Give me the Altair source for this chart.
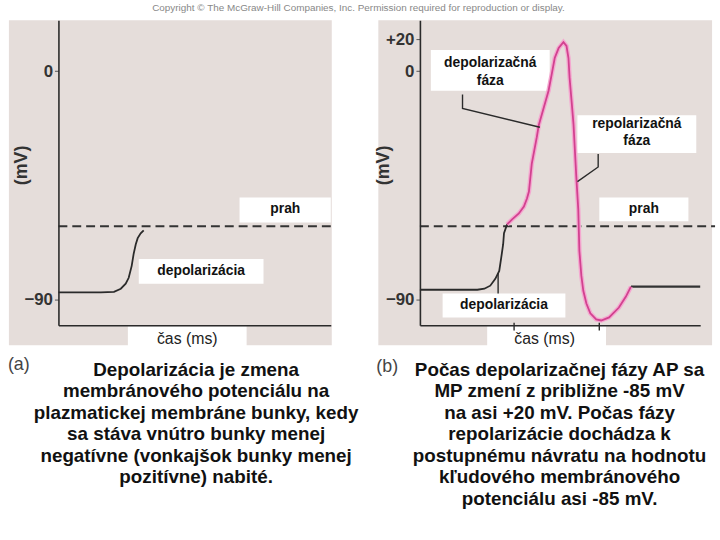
import altair as alt
import pandas as pd

# ---------------- data ----------------
# panel (a): subthreshold depolarisation
a_time = [0.0, 1.56, 2.04, 2.29, 2.47, 2.58, 2.69, 2.76, 2.84, 2.91, 3.02, 3.13]
a_mv = [-87.0, -87.0, -86.8, -85.6, -83.6, -81.3, -76.6, -72.0, -68.1, -65.7, -63.8, -62.6]

# panel (b): action potential
b_rest_time = [0.0, 2.05, 2.30, 2.51, 2.69, 2.83, 2.90, 2.97, 3.00, 3.11]
b_rest_mv = [-86.0, -86.0, -85.6, -84.4, -81.7, -78.6, -73.5, -68.1, -63.8, -60.3]
b_spike_time = [3.11, 3.29, 3.53, 3.71, 3.82, 3.89, 3.99, 4.17, 4.24, 4.42, 4.59, 4.70,
                4.81, 4.95, 5.12, 5.23, 5.30, 5.34, 5.41, 5.48, 5.58, 5.65, 5.69, 5.76,
                5.83, 5.94, 6.08, 6.29, 6.47, 6.75, 7.10, 7.35, 7.53]
b_spike_mv = [-60.3, -58.3, -56.0, -53.3, -50.1, -47.4, -36.5, -26.0, -21.3, -14.3, -7.7, -1.4,
              8.2, 14.4, 18.1, 15.7, 8.2, -2.6, -11.6, -20.9, -41.6, -54.4, -70.8, -80.5,
              -86.4, -91.4, -95.3, -97.7, -98.1, -96.9, -93.0, -88.7, -84.8]
b_after_start = [7.53]
b_after_end = [10.0]
b_after_mv = [-84.8]

threshold_mv = -61
a_ticks = [-90, 0]
b_ticks = [-90, 0, 20]

# annotation boxes (data units: time, mV)
a_box_text = ["prah", "depolarizácia"]
a_box_t1 = [6.65, 2.95]
a_box_t2 = [10.0, 7.53]
a_box_m1 = [-49.7, -73.9]
a_box_m2 = [-59.5, -83.6]
a_lab_t = [8.33, 5.24]
a_lab_m = [-54.4, -78.8]

b_box_t1 = [0.39, 5.62, 6.40, 0.81]
b_box_t2 = [4.63, 9.86, 9.58, 5.19]
b_box_m1 = [13.2, -17.4, -49.7, -87.5]
b_box_m2 = [-7.7, -32.2, -59.1, -96.9]
b_lab_text = ["depolarizačná", "fáza", "repolarizačná", "fáza", "prah", "depolarizácia"]
b_lab_t = [2.51, 2.51, 7.74, 7.74, 7.99, 3.00]
b_lab_m = [5.1, -3.9, -20.9, -27.5, -54.4, -92.2]

xlab_text = "čas (ms)"
a_xbox = [2.55, 6.91, -100.4, -109.7]
a_xlab = [4.73, -105.3]
b_xbox = [2.40, 6.64, -100.4, -109.7]
b_xlab = [4.45, -105.3]

# leader lines in (b)
lead_id = [1, 1, 1, 2, 2, 2, 3, 3, 4, 4, 5, 5]
lead_t = [1.52, 1.52, 4.28, 6.36, 6.36, 5.62, 2.79, 2.79, 3.36, 3.36, 6.40, 6.40]
lead_mv = [-9.2, -14.7, -22.1, -32.6, -37.7, -43.5, -79.4, -87.5, -99.0, -102.0, -99.0, -102.0]

copyright_text = "Copyright © The McGraw-Hill Companies, Inc. Permission required for reproduction or display."
para_a = ["Depolarizácia je zmena",
          "membránového potenciálu na",
          "plazmatickej membráne bunky, kedy",
          "sa stáva vnútro bunky menej",
          "negatívne (vonkajšok bunky menej",
          "pozitívne) nabité."]
para_b = ["Počas depolarizačnej fázy AP sa",
          "MP zmení z približne -85 mV",
          "na asi +20 mV. Počas fázy",
          "repolarizácie dochádza k",
          "postupnému návratu na hodnotu",
          "kľudového membránového",
          "potenciálu asi -85 mV."]

# ---------------- styling ----------------
FONT = "Liberation Sans"
PFONT = "Liberation Sans Narrow, Liberation Sans, Arial"
GRAY = "#e5ddda"
INK = "#2a2a2a"
PINK = "#d2418f"
HALO = "#f4a8d0"

label_expr = ("datum.value > 0 ? '+' + datum.value : "
              "(datum.value < 0 ? '\u2212' + abs(datum.value) : '0')")


def y_axis(vals):
    return alt.Axis(values=vals, labelExpr=label_expr, title="(mV)",
                    titleX=-37, titleY=146, titleAngle=270, titleAlign="center",
                    titleBaseline="middle", titleFont=FONT, titleFontSize=18,
                    titleFontWeight="bold", titleColor="#333",
                    labelFont=FONT, labelFontSize=17, labelFontWeight="bold",
                    labelColor="#333", labelPadding=2, tickSize=4, tickColor="#555",
                    tickWidth=1, domainColor=INK, domainWidth=1.6, grid=False, zindex=1)


x_axis = alt.Axis(labels=False, ticks=False, grid=False, domainColor=INK,
                  domainWidth=1.6, title=None, zindex=1)


def panel(width, height, xscale, yscale, yvals, gray_x, curves, boxes, labels,
          xbox, xlab, extra, para, para_x, tag, tag_x, tag_y, top_text=None):
    X = lambda f: alt.X(f, type="quantitative", scale=xscale, axis=x_axis)
    Y = lambda f: alt.Y(f, type="quantitative", scale=yscale, axis=y_axis(yvals))
    one = pd.DataFrame({"k": [0]})

    layers = []
    layers.append(alt.Chart(one).mark_rect(color=GRAY).encode(
        x=alt.value(gray_x[0]), x2=alt.value(gray_x[1]),
        y=alt.value(0), y2=alt.value(328)))
    bx = pd.DataFrame(boxes + [xbox], columns=["t1", "t2", "m1", "m2"])
    layers.append(alt.Chart(bx).mark_rect(color="white").encode(
        x=X("t1"), x2="t2", y=Y("m1"), y2="m2"))
    thr = pd.DataFrame({"t0": [0.0], "t1": [gray_x[2]], "mv": [threshold_mv]})
    layers.append(alt.Chart(thr).mark_rule(color="#333", strokeWidth=2,
                                           strokeDash=[9, 5]).encode(
        x=X("t0"), x2="t1", y=Y("mv")))
    layers += [c(X, Y) for c in curves]
    if extra is not None:
        layers.append(extra(X, Y))
    lab = pd.DataFrame(labels, columns=["txt", "t", "mv"])
    layers.append(alt.Chart(lab).mark_text(font=FONT, fontSize=14, fontWeight="bold",
                                           color="#111").encode(
        x=X("t"), y=Y("mv"), text="txt:N"))
    xl = pd.DataFrame({"txt": [xlab_text], "t": [xlab[0]], "mv": [xlab[1]]})
    layers.append(alt.Chart(xl).mark_text(font=FONT, fontSize=16, color="#222").encode(
        x=X("t"), y=Y("mv"), text="txt:N"))
    layers.append(alt.Chart(one).mark_text(text=para, font=PFONT, fontSize=19,
                                           fontWeight="bold", color="#111",
                                           lineHeight=21.7, baseline="top",
                                           align="center").encode(
        x=alt.value(para_x), y=alt.value(344)))
    layers.append(alt.Chart(one).mark_text(text=tag, font=FONT, fontSize=18,
                                           color="#444").encode(
        x=alt.value(tag_x), y=alt.value(tag_y)))
    if top_text is not None:
        layers.append(alt.Chart(one).mark_text(text=top_text, font=FONT, fontSize=10,
                                               color="#888", baseline="top",
                                               align="center").encode(
            x=alt.value(303), y=alt.value(-17)))
    return alt.layer(*layers).properties(width=width, height=height)


# ---- panel (a)
a_df = pd.DataFrame({"t": a_time, "mv": a_mv})


def a_curve(X, Y):
    return alt.Chart(a_df).mark_line(color=INK, strokeWidth=1.8).encode(x=X("t"), y=Y("mv"))


a_boxes = [[a_box_t1[i], a_box_t2[i], a_box_m1[i], a_box_m2[i]] for i in range(len(a_box_t1))]
a_labels = [[a_box_text[i], a_lab_t[i], a_lab_m[i]] for i in range(len(a_box_text))]

chart_a = panel(275, 308,
                alt.Scale(domain=[0, 10], nice=False, zero=False),
                alt.Scale(domain=[-100, 20], nice=False, zero=False),
                a_ticks, [-50, 276, 10.04], [a_curve], a_boxes, a_labels,
                a_xbox, a_xlab, None, para_a, 139, "(a)", -40, 348,
                top_text=copyright_text)

# ---- panel (b)
rest_df = pd.DataFrame({"t": b_rest_time, "mv": b_rest_mv})
after_df = pd.DataFrame({"ta": b_after_start, "tb": b_after_end, "mv": b_after_mv})
spike_df = pd.DataFrame({"t": b_spike_time, "mv": b_spike_mv,
                         "i": list(range(len(b_spike_time)))})
lead_df = pd.DataFrame({"id": lead_id, "t": lead_t, "mv": lead_mv,
                        "i": list(range(len(lead_id)))})


def b_rest(X, Y):
    return alt.Chart(rest_df).mark_line(color=INK, strokeWidth=1.8).encode(
        x=X("t"), y=Y("mv"))


def b_after(X, Y):
    return alt.Chart(after_df).mark_rule(color="#333333", strokeWidth=2.2).encode(
        x=X("ta"), x2="tb", y=Y("mv"))


def b_halo(X, Y):
    return alt.Chart(spike_df).mark_line(color=HALO, strokeWidth=4.5).encode(
        x=X("t"), y=Y("mv"), order="i:Q")


def b_core(X, Y):
    return alt.Chart(spike_df).mark_line(color=PINK, strokeWidth=1.8).encode(
        x=X("t"), y=Y("mv"), order="i:Q")


def b_lead(X, Y):
    return alt.Chart(lead_df).mark_line(color=INK, strokeWidth=1.4).encode(
        x=X("t"), y=Y("mv"), detail="id:N", order="i:Q")


b_boxes = [[b_box_t1[i], b_box_t2[i], b_box_m1[i], b_box_m2[i]] for i in range(len(b_box_t1))]
b_labels = [[b_lab_text[i], b_lab_t[i], b_lab_m[i]] for i in range(len(b_lab_text))]

chart_b = panel(283, 308,
                alt.Scale(domain=[0, 10], nice=False, zero=False),
                alt.Scale(domain=[-100, 0, 20, 32], range=[308, 51.3, 19, 0],
                          nice=False, zero=False),
                b_ticks, [-42, 295, 10.53], [b_rest, b_after, b_halo, b_core],
                b_boxes, b_labels,
                b_xbox, b_xlab, b_lead, para_b, 141, "(b)", -33, 350)

chart = alt.hconcat(chart_a, chart_b, spacing=90, bounds="flush").properties(
    padding={"left": 7, "top": 0, "right": 3, "bottom": 0},
    background="white",
).configure_view(stroke="transparent")

chart.save("out.html", embed_options={"renderer": "svg", "actions": False})
